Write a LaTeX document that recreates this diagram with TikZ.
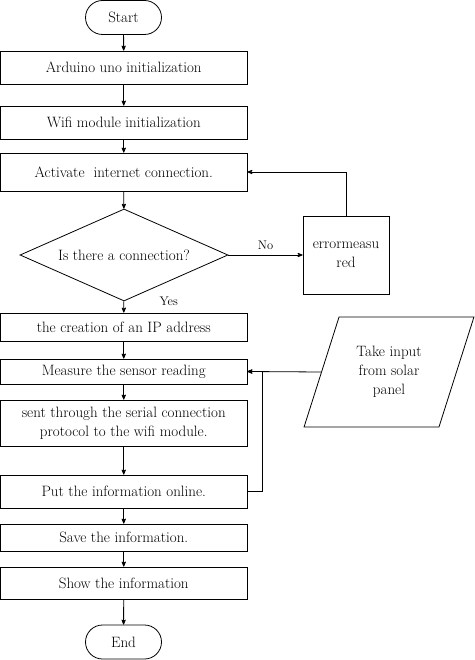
\documentclass[tikz,border=0pt]{standalone}
\usetikzlibrary{arrows,shapes.geometric}

\begin{document}
\begin{tikzpicture}[
    x = 1pt,
    y = -1pt,
    line width = 0.8pt,
    >=stealth',
    every node/.style = {font = \fontsize{15}{19}\selectfont},
    process/.style = {
      draw,
      rectangle,
      align = center,
      inner sep = 0pt,
      minimum width = 246.5pt
    },
    terminal/.style = {
      draw,
      rectangle,
      rounded corners = 17pt,
      minimum width = 76pt,
      minimum height = 34pt
    },
    decision/.style = {
      draw,
      diamond,
      aspect = 2.26,
      inner sep = 0pt,
      minimum width = 208pt,
      minimum height = 92pt
    },
    inputbox/.style = {
      draw,
      trapezium,
      trapezium left angle = 66,
      trapezium right angle = 114,
      trapezium stretches = true,
      align = center,
      inner sep = 0pt,
      minimum width = 170pt,
      minimum height = 110pt
    },
    tag/.style = {font = \fontsize{12.5}{14}\selectfont}
  ]
  \useasboundingbox (0,0) rectangle (474,660);

  \node[terminal] (start) at (123.5,17.5) {Start};
  \node[process, minimum height = 33pt] (uno) at (123.75,67.5) {Arduino uno initialization};
  \node[process, minimum height = 33pt] (wifi) at (123.75,122.5) {Wifi module initialization};
  \node[process, minimum height = 38pt] (activate) at (123.75,172) {Activate\ \ internet connection.};
  \node[decision] (conn) at (124,255) {Is there a connection?};
  \node[process, minimum height = 78pt, minimum width = 86pt] (error) at (346,255) {errormeasu\\red};
  \node[process, minimum height = 28pt] (ip) at (123.75,327) {the creation of an IP address};
  \node[process, minimum height = 25pt] (measure) at (123.75,371.5) {Measure the sensor reading};
  \node[process, minimum height = 46pt] (serial) at (123.75,423) {sent through the serial connection\\protocol to the wifi module.};
  \node[process, minimum height = 33pt] (online) at (123.75,491.5) {Put the information online.};
  \node[process, minimum height = 27pt] (save) at (123.75,537.5) {Save the information.};
  \node[process, minimum height = 32pt] (show) at (123.75,583) {Show the information};
  \node[terminal] (end) at (123.5,642) {End};
  \node[inputbox] (solar) at (389,372) {Take input\\from solar\\panel};

  \draw[->] (start) -- (uno);
  \draw[->] (uno) -- (wifi);
  \draw[->] (wifi) -- (activate);
  \draw[->] (activate) -- (conn);
  \draw[->] (conn) -- node[tag, pos = 0, right = 32pt] {Yes} (ip);
  \draw[->] (conn.east) -- node[tag, above = 2pt] {No} (error.west);
  \draw[->] (error.north) |- (activate.east);
  \draw[->] (ip) -- (measure);
  \draw[->] (measure) -- (serial);
  \draw[->] (serial) -- (online);
  \draw[->] (online) -- (save);
  \draw[->] (save) -- (show);
  \draw[->] (show) -- (end);
  \draw[->] (solar.west) -- (measure.east);
  \draw[->] (online.east) -- ++(15,0) |- (measure.east);

\end{tikzpicture}
\end{document}
